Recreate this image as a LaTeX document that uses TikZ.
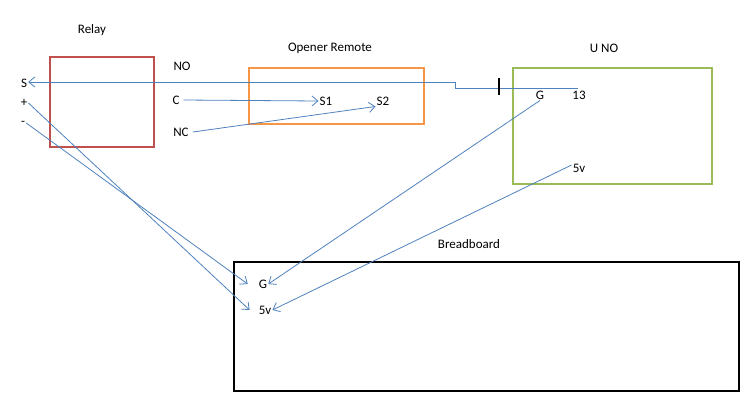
\documentclass[tikz,border=0pt]{standalone}
\usepackage{fontspec}
\setmainfont{Carlito}
\usetikzlibrary{arrows.meta,positioning}
\definecolor{relayred}{RGB}{192,80,77}
\definecolor{remoteorange}{RGB}{247,150,70}
\definecolor{unogreen}{RGB}{155,187,89}
\definecolor{wireblue}{RGB}{79,129,189}
\tikzset{
  box/.style={draw,line width=2.5pt},
  lbl/.style={inner sep=1pt,font=\fontsize{13}{15}\selectfont},
  wire/.style={wireblue,line width=0.8pt,-{Straight Barb[length=6pt,width=10pt]}}
}
\begin{document}
\begin{tikzpicture}[x=1pt,y=-1pt]
\useasboundingbox (0,0) rectangle (742,408);
%boxes
\draw[box,relayred] (50,57) rectangle (154,147);
\draw[box,remoteorange] (249,68) rectangle (424,124);
\draw[box,unogreen] (513,68) rectangle (712,184);
\draw[box,black] (234,262) rectangle (739,391);
%titles
\node[lbl] (relay) at (92,30) {Relay};
\node[lbl] (remote) at (330,48) {Opener Remote};
\node[lbl] (uno) at (604,48) {U NO};
\node[lbl] (bb) at (469,244) {Breadboard};
%pins
\node[lbl] (s) at (24,83) {S};
\node[lbl] (plus) at (24,103) {+};
\node[lbl] (minus) at (23,123) {-};
\node[lbl] (no) at (182,66) {NO};
\node[lbl] (c) at (176,100) {C};
\node[lbl] (nc) at (181,132) {NC};
\node[lbl] (s1) at (326,101) {S1};
\node[lbl] (s2) at (383,101) {S2};
\node[lbl] (ug) at (540,95) {G};
\node[lbl] (u13) at (579,95) {13};
\node[lbl] (u5v) at (579,168) {5v};
\node[lbl] (bg) at (263,284) {G};
\node[lbl] (b5v) at (265,310) {5v};
\coordinate (pinend) at (578,88);
\coordinate (jogA) at (455,88);
\coordinate (jogB) at (455,82);
\coordinate (tickA) at (499,78);
\coordinate (tickB) at (499,95);
%wires
\draw[wire] (pinend) -- (jogA) -- (jogB) -- (s.east |- jogB);
\draw[black,line width=1.2pt] (tickA) -- (tickB);
\draw[wire] ([xshift=3pt]c.east) -- (s1.west);
\draw[wire] ([xshift=3pt]nc.east) -- (s2.south west);
\draw[wire] (ug.south) -- (bg.east);
\draw[wire] ([yshift=3pt]u5v.west) -- (b5v.east);
\draw[wire] (plus.east) -- ([xshift=-8pt]b5v.west);
\draw[wire] (minus.east) -- ([xshift=-10pt]bg.west);
\end{tikzpicture}
\end{document}
